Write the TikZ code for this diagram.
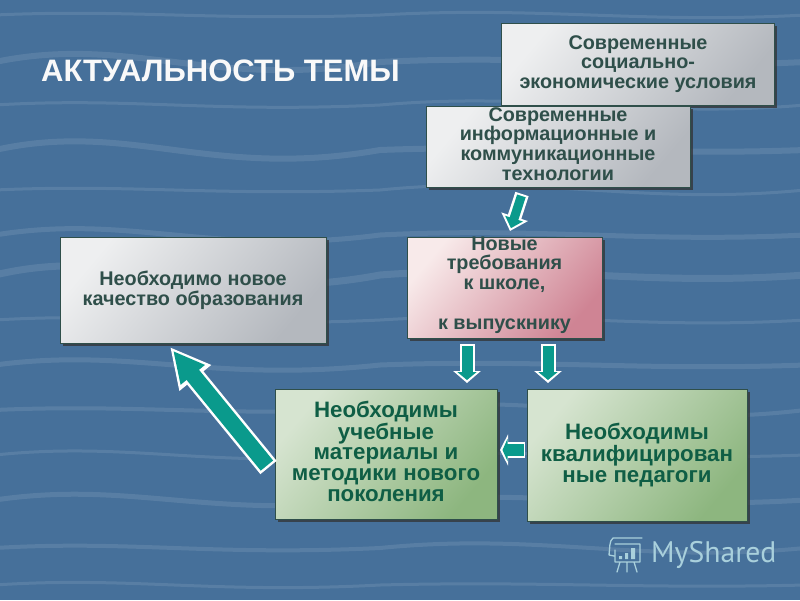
\documentclass[tikz,border=0pt]{standalone}
\usepackage{fontspec}
\setmainfont{Liberation Sans}
\newfontfamily\logofont{PT Sans}
\usetikzlibrary{arrows.meta,shadows}

\definecolor{seablue}{HTML}{46709A}
\definecolor{boxtext}{HTML}{2F4F4A}
\definecolor{greentext}{HTML}{0F5E45}
\definecolor{arrowteal}{HTML}{0A9A8C}
\definecolor{logoblue}{HTML}{A9D0DC}
\definecolor{grayleft}{HTML}{EEEFF0}
\definecolor{grayright}{HTML}{B4B8BE}
\definecolor{pinkleft}{HTML}{F8EAEA}
\definecolor{pinkright}{HTML}{CF8494}
\definecolor{greenleft}{HTML}{D6E4D0}
\definecolor{greenright}{HTML}{8DB67F}

\tikzset{
  box/.style={draw=boxtext,line width=1,align=center,
    drop shadow={shadow xshift=2.5pt,shadow yshift=-2.5pt,opacity=.75,fill=black!80},
    inner sep=0,text=boxtext},
  graybox/.style={box,left color=grayleft,right color=grayright,shading angle=50,
    font=\bfseries\fontsize{19.8}{19.6}\selectfont},
  pinkbox/.style={box,left color=pinkleft,right color=pinkright,shading angle=50,
    font=\bfseries\fontsize{19.8}{19.7}\selectfont},
  greenbox/.style={box,left color=greenleft,right color=greenright,shading angle=50,
    text=greentext,font=\bfseries\fontsize{22.3}{20.6}\selectfont},
  outer/.style={white,line cap=butt},
  inner/.style={arrowteal,line cap=butt},
  streak/.style={white,opacity=.1,line cap=round},
}

\begin{document}
\begin{tikzpicture}[x=1pt,y=-1pt]

\useasboundingbox (0,0) rectangle (800,600);

\fill [seablue] (0,0) rectangle (800,600);

\foreach \y/\a/\b/\w in {15/6/9/3,62/28/8/6,105/8/14/3,150/30/6/6,190/6/16/3,235/22/8/5,275/32/12/7,320/8/10/3,
  365/18/6/5,410/6/20/4,455/14/6/3,500/20/10/5,548/8/16/4,585/9/4/3}
  \draw [streak,line width=\w] (-5,\y) .. controls (130,\y-\a) and (210,\y+\a) .. (380,\y)
    .. controls (540,\y-\b) and (640,\y+\b) .. (805,\y);

\node [font=\bfseries\fontsize{31}{33}\selectfont,text=white!95!gray,anchor=west,inner sep=0] (title) at (41,71) {АКТУАЛЬНОСТЬ ТЕМЫ};

\node [graybox,minimum width=273,minimum height=82] (social) at (638,64)
  {Современные\\социально-\\экономические условия};
\node [graybox,text height=70,text depth=4,minimum width=264,minimum height=81] (tech) at (558,147)
  {Современные\\информационные и\\коммуникационные\\технологии};
\node [pinkbox,text height=85,text depth=2,minimum width=195,minimum height=101] (school) at (504.5,287.5)
  {Новые\\требования\\к школе,\\\mbox{}\\к выпускнику};
\node [graybox,minimum width=266,minimum height=106] (quality) at (193,290)
  {Необходимо новое\\качество образования};
\node [greenbox,text height=102,text depth=8,minimum width=222,minimum height=130] (materials) at (386,454)
  {Необходимы\\учебные\\материалы и\\методики нового\\поколения};
\node [greenbox,minimum width=220,minimum height=132] (teachers) at (637,455)
  {Необходимы\\квалифицирован\\ные педагоги};

\coordinate (techend) at (522,194);
\coordinate (schoolstart) at (510,231);
\coordinate (leftstart) at (467,344);
\coordinate (leftend) at (467,383);
\coordinate (rightstart) at (548,344);
\coordinate (rightend) at (548,383);
\coordinate (midstart) at (525,450);
\coordinate (midend) at (500,450);
\coordinate (bigstart) at (268.5,467.5);
\coordinate (bigend) at (170,347);

\draw [outer,line width=14,-{Triangle[length=15,width=27]}] (techend) -- (schoolstart);
\draw [inner,line width=9,-{Triangle[length=10,width=18]},shorten >=3,shorten <=2] (techend) -- (schoolstart);
\draw [outer,line width=15,-{Triangle[length=12,width=27]}] (leftstart) -- (leftend);
\draw [inner,line width=11,-{Triangle[length=8,width=19]},shorten >=3,shorten <=2] (leftstart) -- (leftend);
\draw [outer,line width=15,-{Triangle[length=12,width=27]}] (rightstart) -- (rightend);
\draw [inner,line width=11,-{Triangle[length=8,width=19]},shorten >=3,shorten <=2] (rightstart) -- (rightend);
\draw [outer,line width=16,-{Triangle[length=8,width=31]}] (midstart) -- (midend);
\draw [inner,line width=12,-{Triangle[length=5,width=22]},shorten >=2.5,shorten <=1.5] (midstart) -- (midend);
\draw [outer,line width=21,-{Triangle[length=40,width=38]}] (bigstart) -- (bigend);
\draw [inner,line width=16,-{Triangle[length=31,width=29]},shorten >=5,shorten <=2.5] (bigstart) -- (bigend);

\node [logoblue,font=\logofont\fontsize{29.7}{31}\selectfont,anchor=west,inner sep=0] (logo) at (651,555) {MyShared};

\draw [logoblue,line width=1.3,line cap=round,line join=round] (613,538) -- (642,538) (613,538) .. controls (609,541) and (610,548) .. (609,555) -- (614,556)
  (615,544) -- (640,544) -- (640,562) -- (615,562) -- (615,550)
  (620,562) -- (617,572) (627,562) -- (627,572) (634,562) -- (637,572);
\fill [logoblue] (619,556) rectangle (622,559) (625,553) rectangle (628,559) (631,548) rectangle (635,559);

\end{tikzpicture}
\end{document}
